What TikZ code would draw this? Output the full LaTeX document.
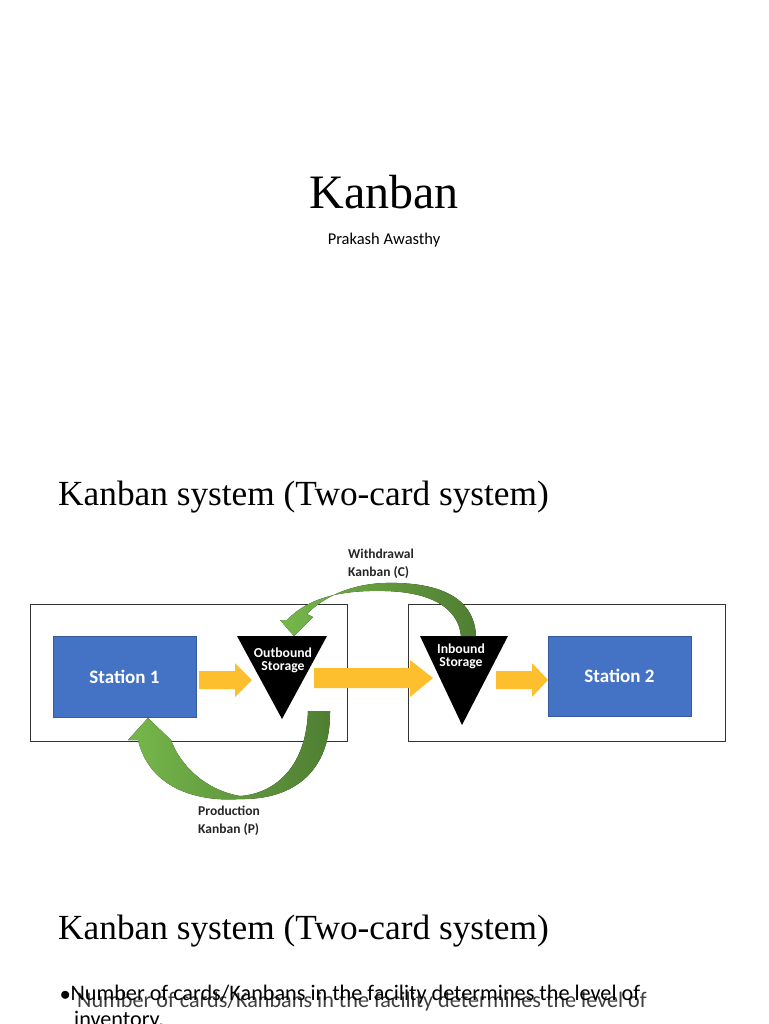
\documentclass[tikz,border=0pt]{standalone}
\usepackage{fontspec}
\setmainfont{Liberation Serif}
\newfontfamily\calfont{Carlito}
\begin{document}
\begin{tikzpicture}[x=1pt,y=-1pt,
  frame/.style={draw=black!80,line width=0.8pt},
  station/.style={fill=blue1,draw=blue1!80!black,line width=0.5pt},
  store/.style={fill=black},
  yarrow/.style={fill=yel},
  grn/.style={left color=g1,right color=g2},
  lbl/.style={font=\calfont\bfseries\fontsize{13.5}{17.5}\selectfont,text=black!85,align=left,anchor=north west,inner sep=0pt},
  wlbl/.style={font=\calfont\bfseries\fontsize{13.7}{15}\selectfont,text=white,align=center}]
\definecolor{blue1}{HTML}{4472C4}
\definecolor{yel}{HTML}{FDBF2D}
\definecolor{g1}{HTML}{76B84B}
\definecolor{g2}{HTML}{4F7E32}
\useasboundingbox (0,0) rectangle (768,1024);
\fill[white] (0,0) rectangle (768,1024);
\node (t) at (384,192) {\fontsize{48}{52}\selectfont Kanban};
\node (st) at (384,240) {\calfont\fontsize{16.5}{18}\selectfont Prakash Awasthy};
\node[anchor=west,inner sep=0pt] (h1) at (58,497) {\fontsize{35.3}{38}\selectfont Kanban system (Two-card system)};
\node[anchor=west,inner sep=0pt] (h2) at (58,931) {\fontsize{35.3}{38}\selectfont Kanban system (Two-card system)};
% boxes
\node[frame,minimum width=317,minimum height=137,inner sep=0pt] (b1) at (188.5,672.5) {};
\node[frame,minimum width=317,minimum height=137,inner sep=0pt] (b2) at (566.5,672.5) {};
\node[station,minimum width=143,minimum height=81,inner sep=0pt,wlbl,font=\calfont\bfseries\fontsize{19}{21}\selectfont] (s1) at (124.5,676.5) {Station 1};
\node[station,minimum width=143,minimum height=80,inner sep=0pt,wlbl,font=\calfont\bfseries\fontsize{19}{21}\selectfont] (s2) at (619.5,676) {Station 2};
% triangles
\fill[store] (237,636) -- (327,636) -- (282,719) -- cycle;
\fill[store] (420,636) -- (508,636) -- (462,725) -- cycle;
\node[wlbl] (ob) at (283,660) {Outbound\\[-2pt]Storage};
\node[wlbl] (ib) at (461,656) {Inbound\\[-2pt]Storage};
% yellow arrows
\fill[yarrow] (199,671) -- (235,671) -- (235,663) -- (252,680) -- (235,697) -- (235,689) -- (199,689) -- cycle;
\fill[yarrow] (314,668) -- (410,668) -- (410,660) -- (433,678) -- (410,697) -- (410,688) -- (314,688) -- cycle;
\fill[yarrow] (496,671) -- (532,671) -- (532,663) -- (548,680) -- (532,697) -- (532,689) -- (496,689) -- cycle;
% production kanban arrow
\fill[grn] (308,711) .. controls (306,770) and (272,794) .. (240,796)
  .. controls (205,790) and (180,765) .. (171,740) -- (171,740) -- (148,718) -- (128,740) -- (138,740)
  .. controls (150,790) and (200,802) .. (240,799)
  .. controls (295,800) and (331,770) .. (330,711) -- cycle;
% withdrawal kanban arrow
\fill[grn] (476,636) .. controls (474,590) and (425,582) .. (385,583)
  .. controls (350,584) and (322,598) .. (307,614) -- (313,617) -- (294,636) -- (280,620) -- (287,620)
  .. controls (310,596) and (345,590) .. (385,591)
  .. controls (428,592) and (458,606) .. (461,636) -- cycle;
\node[lbl] (wk) at (348,549) {Withdrawal\\Kanban (C)};
\node[lbl] (pk) at (198,806) {Production\\Kanban (P)};
% bottom text (doubled)
\node[anchor=west,inner sep=0pt,text=black!75,font=\calfont\fontsize{22.2}{24}\selectfont] (bt2) at (77,1002) {Number of cards/Kanbans in the facility determines the level of};
\node[anchor=west,inner sep=0pt,font=\calfont\fontsize{22.2}{24}\selectfont] (bt1) at (60,995) {$\bullet$Number of cards/Kanbans in the facility determines the level of};
\node[anchor=west,inner sep=0pt,font=\calfont\fontsize{22.2}{24}\selectfont] (bt3) at (74,1021) {inventory.};
\end{tikzpicture}
\end{document}
